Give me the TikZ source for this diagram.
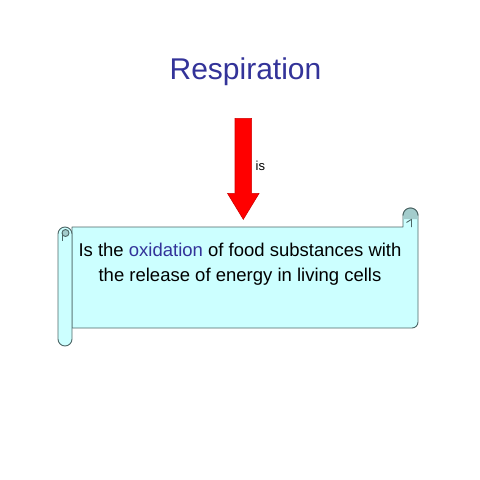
\documentclass[tikz,border=0pt]{standalone}
\usepackage{fontspec}
\setmainfont{Liberation Sans}
\usetikzlibrary{calc}

\definecolor{titleblue}{HTML}{333399}
\definecolor{scrollfill}{HTML}{CCFFFF}
\definecolor{scrollshade}{HTML}{A3CCCC}
\definecolor{scrollline}{HTML}{4D6666}
\definecolor{arrowline}{HTML}{D00000}

\begin{document}
\begin{tikzpicture}[x=1pt, y=-1pt,
	scroll/.style={draw=scrollline, fill=scrollfill, line width=0.9pt, line join=round},
	curl/.style={draw=scrollline, line width=0.9pt, line join=round}]

	\useasboundingbox (0,0) rectangle (480,480);

	% title and the word on the arrow
	\node[text=titleblue, font=\fontsize{30}{36}\selectfont, anchor=base] (title) at (245.5,79.5) {Respiration};
	\node[font=\fontsize{13}{15}\selectfont, anchor=base west, inner sep=0] (verb) at (255.5,170) {is};

	% block arrow
	\draw[fill=red, draw=arrowline, line width=0.6pt] (235,118.3) -- (251.6,118.3) -- (251.6,193.3) -- (259.1,193.3) -- (243.3,219.3) -- (227.5,193.3) -- (235,193.3) -- cycle;

	% scroll body with right roll
	\draw[scroll] (72,227) -- (403,227) -- (403,215.5) arc (180:360:7.5) -- (418,322) arc (0:90:6) -- (72,328) -- cycle;
	\fill[scrollshade] (403,219) -- (403,215.5) arc (180:360:7.5) -- (418,219) -- cycle;
	\draw[curl] (403,215.5) arc (180:360:7.5);
	\draw[curl] (406.5,222.5) -- (411.5,219.3) -- (411.5,227);

	% left roll
	\draw[scroll] (58,234) arc (180:360:7) -- (72,339) arc (0:180:7) -- cycle;
	\draw[curl, fill=scrollshade] (65.5,233) circle (3.5);
	\draw[curl] (62,233) -- (62,241);

	\node[align=center, font=\fontsize{18.5}{25}\selectfont, inner sep=0] (definition) at (240,264.4)
		{Is the \textcolor{titleblue}{oxidation} of food substances with\\ the release of energy in living cells};
\end{tikzpicture}
\end{document}
